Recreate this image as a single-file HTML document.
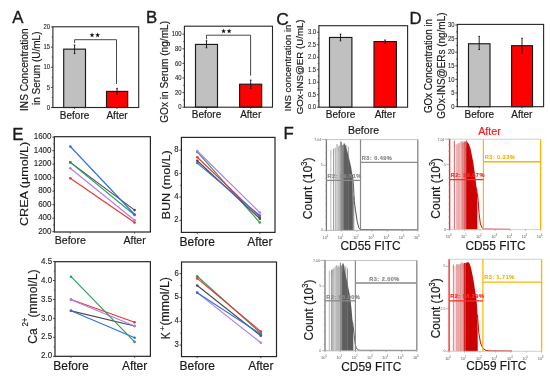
<!DOCTYPE html>
<html><head><meta charset="utf-8"><style>
html,body{margin:0;padding:0;background:#fff;}
svg{display:block;filter:blur(0.25px);font-family:"Liberation Sans",sans-serif;}
</style></head><body>
<svg width="550" height="378" viewBox="0 0 550 378">
<rect width="550" height="378" fill="#fff"/>
<rect x="63.70" y="49.14" width="21.80" height="58.36" fill="#c0c0c0" stroke="#1a1a1a" stroke-width="1.15"/>
<rect x="106.50" y="91.40" width="21.20" height="16.10" fill="#ff0000" stroke="#1a1a1a" stroke-width="1.15"/>
<line x1="74.60" y1="45.00" x2="74.60" y2="53.60" stroke="#111" stroke-width="0.9" />
<line x1="73.80" y1="45.00" x2="75.40" y2="45.00" stroke="#111" stroke-width="0.9" />
<line x1="73.80" y1="53.60" x2="75.40" y2="53.60" stroke="#111" stroke-width="0.9" />
<line x1="117.00" y1="88.40" x2="117.00" y2="94.30" stroke="#111" stroke-width="0.9" />
<line x1="116.20" y1="88.40" x2="117.80" y2="88.40" stroke="#111" stroke-width="0.9" />
<line x1="116.20" y1="94.30" x2="117.80" y2="94.30" stroke="#111" stroke-width="0.9" />
<rect x="52.90" y="26.80" width="85.80" height="80.70" fill="none" stroke="#262626" stroke-width="1.1"/>
<line x1="50.90" y1="107.50" x2="52.90" y2="107.50" stroke="#262626" stroke-width="0.8" />
<text transform="translate(50.05,109.67) scale(0.84,1)" font-size="7.0" text-anchor="end" fill="#222" stroke="#222" stroke-width="0.1">0</text>
<line x1="50.90" y1="87.38" x2="52.90" y2="87.38" stroke="#262626" stroke-width="0.8" />
<text transform="translate(50.05,89.55) scale(0.84,1)" font-size="7.0" text-anchor="end" fill="#222" stroke="#222" stroke-width="0.1">5</text>
<line x1="50.90" y1="67.25" x2="52.90" y2="67.25" stroke="#262626" stroke-width="0.8" />
<text transform="translate(50.05,69.42) scale(0.84,1)" font-size="7.0" text-anchor="end" fill="#222" stroke="#222" stroke-width="0.1">10</text>
<line x1="50.90" y1="47.12" x2="52.90" y2="47.12" stroke="#262626" stroke-width="0.8" />
<text transform="translate(50.05,49.30) scale(0.84,1)" font-size="7.0" text-anchor="end" fill="#222" stroke="#222" stroke-width="0.1">15</text>
<line x1="50.90" y1="27.00" x2="52.90" y2="27.00" stroke="#262626" stroke-width="0.8" />
<text transform="translate(50.05,29.17) scale(0.84,1)" font-size="7.0" text-anchor="end" fill="#222" stroke="#222" stroke-width="0.1">20</text>
<line x1="51.70" y1="97.44" x2="52.90" y2="97.44" stroke="#262626" stroke-width="0.7" />
<line x1="51.70" y1="77.31" x2="52.90" y2="77.31" stroke="#262626" stroke-width="0.7" />
<line x1="51.70" y1="57.19" x2="52.90" y2="57.19" stroke="#262626" stroke-width="0.7" />
<line x1="51.70" y1="37.06" x2="52.90" y2="37.06" stroke="#262626" stroke-width="0.7" />
<line x1="74.60" y1="107.50" x2="74.60" y2="109.00" stroke="#262626" stroke-width="0.8" />
<line x1="117.00" y1="107.50" x2="117.00" y2="109.00" stroke="#262626" stroke-width="0.8" />
<text x="74.60" y="118.50" font-size="10" text-anchor="middle" fill="#1a1a1a" font-weight="normal" stroke="#1a1a1a" stroke-width="0.18" >Before</text>
<text x="117.00" y="118.50" font-size="10" text-anchor="middle" fill="#1a1a1a" font-weight="normal" stroke="#1a1a1a" stroke-width="0.18" >After</text>
<text transform="translate(27.60,69.70) rotate(-90)" font-size="10.1" text-anchor="middle" fill="#1a1a1a" stroke="#1a1a1a" stroke-width="0.18">INS Concentration</text>
<text transform="translate(39.50,68.25) rotate(-90)" font-size="10.03" text-anchor="middle" fill="#1a1a1a" stroke="#1a1a1a" stroke-width="0.18">in Serum (U/mL)</text>
<polyline points="74.6,43.0 74.6,39.7 116.5,39.7 116.5,84.0" fill="none" stroke="#333" stroke-width="0.9"/>
<polygon points="92.05,32.55 92.67,34.25 94.48,34.31 93.05,35.42 93.55,37.16 92.05,36.15 90.55,37.16 91.05,35.42 89.62,34.31 91.43,34.25" fill="#111"/>
<polygon points="97.65,32.55 98.27,34.25 100.08,34.31 98.65,35.42 99.15,37.16 97.65,36.15 96.15,37.16 96.65,35.42 95.22,34.31 97.03,34.25" fill="#111"/>
<text x="12.20" y="23.00" font-size="16.8" text-anchor="start" fill="#1a1a1a" font-weight="normal" stroke="#1a1a1a" stroke-width="0.35" >A</text>
<rect x="195.50" y="44.42" width="22.00" height="62.78" fill="#c0c0c0" stroke="#1a1a1a" stroke-width="1.15"/>
<rect x="239.60" y="84.20" width="22.10" height="23.00" fill="#ff0000" stroke="#1a1a1a" stroke-width="1.15"/>
<line x1="206.50" y1="40.80" x2="206.50" y2="47.80" stroke="#111" stroke-width="0.9" />
<line x1="205.70" y1="40.80" x2="207.30" y2="40.80" stroke="#111" stroke-width="0.9" />
<line x1="205.70" y1="47.80" x2="207.30" y2="47.80" stroke="#111" stroke-width="0.9" />
<line x1="250.70" y1="80.10" x2="250.70" y2="88.30" stroke="#111" stroke-width="0.9" />
<line x1="249.90" y1="80.10" x2="251.50" y2="80.10" stroke="#111" stroke-width="0.9" />
<line x1="249.90" y1="88.30" x2="251.50" y2="88.30" stroke="#111" stroke-width="0.9" />
<rect x="184.40" y="26.20" width="88.10" height="81.00" fill="none" stroke="#262626" stroke-width="1.1"/>
<line x1="182.40" y1="107.20" x2="184.40" y2="107.20" stroke="#262626" stroke-width="0.8" />
<text transform="translate(181.55,109.37) scale(0.84,1)" font-size="7.0" text-anchor="end" fill="#222" stroke="#222" stroke-width="0.1">0</text>
<line x1="182.40" y1="92.60" x2="184.40" y2="92.60" stroke="#262626" stroke-width="0.8" />
<text transform="translate(181.55,94.77) scale(0.84,1)" font-size="7.0" text-anchor="end" fill="#222" stroke="#222" stroke-width="0.1">20</text>
<line x1="182.40" y1="78.00" x2="184.40" y2="78.00" stroke="#262626" stroke-width="0.8" />
<text transform="translate(181.55,80.17) scale(0.84,1)" font-size="7.0" text-anchor="end" fill="#222" stroke="#222" stroke-width="0.1">40</text>
<line x1="182.40" y1="63.40" x2="184.40" y2="63.40" stroke="#262626" stroke-width="0.8" />
<text transform="translate(181.55,65.57) scale(0.84,1)" font-size="7.0" text-anchor="end" fill="#222" stroke="#222" stroke-width="0.1">60</text>
<line x1="182.40" y1="48.80" x2="184.40" y2="48.80" stroke="#262626" stroke-width="0.8" />
<text transform="translate(181.55,50.97) scale(0.84,1)" font-size="7.0" text-anchor="end" fill="#222" stroke="#222" stroke-width="0.1">80</text>
<line x1="182.40" y1="34.20" x2="184.40" y2="34.20" stroke="#262626" stroke-width="0.8" />
<text transform="translate(181.55,36.37) scale(0.84,1)" font-size="7.0" text-anchor="end" fill="#222" stroke="#222" stroke-width="0.1">100</text>
<line x1="183.20" y1="99.90" x2="184.40" y2="99.90" stroke="#262626" stroke-width="0.7" />
<line x1="183.20" y1="85.30" x2="184.40" y2="85.30" stroke="#262626" stroke-width="0.7" />
<line x1="183.20" y1="70.70" x2="184.40" y2="70.70" stroke="#262626" stroke-width="0.7" />
<line x1="183.20" y1="56.10" x2="184.40" y2="56.10" stroke="#262626" stroke-width="0.7" />
<line x1="183.20" y1="41.50" x2="184.40" y2="41.50" stroke="#262626" stroke-width="0.7" />
<line x1="206.50" y1="107.20" x2="206.50" y2="108.70" stroke="#262626" stroke-width="0.8" />
<line x1="250.70" y1="107.20" x2="250.70" y2="108.70" stroke="#262626" stroke-width="0.8" />
<text x="206.50" y="118.20" font-size="10" text-anchor="middle" fill="#1a1a1a" font-weight="normal" stroke="#1a1a1a" stroke-width="0.18" >Before</text>
<text x="250.70" y="118.20" font-size="10" text-anchor="middle" fill="#1a1a1a" font-weight="normal" stroke="#1a1a1a" stroke-width="0.18" >After</text>
<text transform="translate(167.70,71.85) rotate(-90)" font-size="10.14" text-anchor="middle" fill="#1a1a1a" stroke="#1a1a1a" stroke-width="0.18">GOx in Serum (ng/mL)</text>
<polyline points="206.5,39.2 206.5,35.2 250.6,35.2 250.6,75.7" fill="none" stroke="#333" stroke-width="0.9"/>
<polygon points="223.60,28.65 224.22,30.35 226.03,30.41 224.60,31.52 225.10,33.26 223.60,32.25 222.10,33.26 222.60,31.52 221.17,30.41 222.98,30.35" fill="#111"/>
<polygon points="229.10,28.65 229.72,30.35 231.53,30.41 230.10,31.52 230.60,33.26 229.10,32.25 227.60,33.26 228.10,31.52 226.67,30.41 228.48,30.35" fill="#111"/>
<text x="146.00" y="22.90" font-size="16.8" text-anchor="start" fill="#1a1a1a" font-weight="normal" stroke="#1a1a1a" stroke-width="0.35" >B</text>
<rect x="329.50" y="37.45" width="22.40" height="69.75" fill="#c0c0c0" stroke="#1a1a1a" stroke-width="1.15"/>
<rect x="374.00" y="41.58" width="22.40" height="65.62" fill="#ff0000" stroke="#1a1a1a" stroke-width="1.15"/>
<line x1="340.50" y1="34.20" x2="340.50" y2="40.80" stroke="#111" stroke-width="0.9" />
<line x1="339.70" y1="34.20" x2="341.30" y2="34.20" stroke="#111" stroke-width="0.9" />
<line x1="339.70" y1="40.80" x2="341.30" y2="40.80" stroke="#111" stroke-width="0.9" />
<line x1="385.10" y1="40.00" x2="385.10" y2="43.40" stroke="#111" stroke-width="0.9" />
<line x1="384.30" y1="40.00" x2="385.90" y2="40.00" stroke="#111" stroke-width="0.9" />
<line x1="384.30" y1="43.40" x2="385.90" y2="43.40" stroke="#111" stroke-width="0.9" />
<rect x="318.90" y="25.70" width="88.70" height="81.50" fill="none" stroke="#262626" stroke-width="1.1"/>
<line x1="316.90" y1="107.20" x2="318.90" y2="107.20" stroke="#262626" stroke-width="0.8" />
<text transform="translate(316.05,109.37) scale(0.84,1)" font-size="7.0" text-anchor="end" fill="#222" stroke="#222" stroke-width="0.1">0.0</text>
<line x1="316.90" y1="94.70" x2="318.90" y2="94.70" stroke="#262626" stroke-width="0.8" />
<text transform="translate(316.05,96.87) scale(0.84,1)" font-size="7.0" text-anchor="end" fill="#222" stroke="#222" stroke-width="0.1">0.5</text>
<line x1="316.90" y1="82.20" x2="318.90" y2="82.20" stroke="#262626" stroke-width="0.8" />
<text transform="translate(316.05,84.37) scale(0.84,1)" font-size="7.0" text-anchor="end" fill="#222" stroke="#222" stroke-width="0.1">1.0</text>
<line x1="316.90" y1="69.70" x2="318.90" y2="69.70" stroke="#262626" stroke-width="0.8" />
<text transform="translate(316.05,71.87) scale(0.84,1)" font-size="7.0" text-anchor="end" fill="#222" stroke="#222" stroke-width="0.1">1.5</text>
<line x1="316.90" y1="57.20" x2="318.90" y2="57.20" stroke="#262626" stroke-width="0.8" />
<text transform="translate(316.05,59.37) scale(0.84,1)" font-size="7.0" text-anchor="end" fill="#222" stroke="#222" stroke-width="0.1">2.0</text>
<line x1="316.90" y1="44.70" x2="318.90" y2="44.70" stroke="#262626" stroke-width="0.8" />
<text transform="translate(316.05,46.87) scale(0.84,1)" font-size="7.0" text-anchor="end" fill="#222" stroke="#222" stroke-width="0.1">2.5</text>
<line x1="316.90" y1="32.20" x2="318.90" y2="32.20" stroke="#262626" stroke-width="0.8" />
<text transform="translate(316.05,34.37) scale(0.84,1)" font-size="7.0" text-anchor="end" fill="#222" stroke="#222" stroke-width="0.1">3.0</text>
<line x1="317.70" y1="100.95" x2="318.90" y2="100.95" stroke="#262626" stroke-width="0.7" />
<line x1="317.70" y1="88.45" x2="318.90" y2="88.45" stroke="#262626" stroke-width="0.7" />
<line x1="317.70" y1="75.95" x2="318.90" y2="75.95" stroke="#262626" stroke-width="0.7" />
<line x1="317.70" y1="63.45" x2="318.90" y2="63.45" stroke="#262626" stroke-width="0.7" />
<line x1="317.70" y1="50.95" x2="318.90" y2="50.95" stroke="#262626" stroke-width="0.7" />
<line x1="317.70" y1="38.45" x2="318.90" y2="38.45" stroke="#262626" stroke-width="0.7" />
<line x1="340.60" y1="107.20" x2="340.60" y2="108.70" stroke="#262626" stroke-width="0.8" />
<line x1="385.20" y1="107.20" x2="385.20" y2="108.70" stroke="#262626" stroke-width="0.8" />
<text x="340.60" y="118.30" font-size="10" text-anchor="middle" fill="#1a1a1a" font-weight="normal" stroke="#1a1a1a" stroke-width="0.18" >Before</text>
<text x="385.20" y="118.30" font-size="10" text-anchor="middle" fill="#1a1a1a" font-weight="normal" stroke="#1a1a1a" stroke-width="0.18" >After</text>
<text transform="translate(291.40,67.90) rotate(-90)" font-size="9.65" text-anchor="middle" fill="#1a1a1a" stroke="#1a1a1a" stroke-width="0.18">INS concentration in</text>
<text transform="translate(303.10,66.85) rotate(-90)" font-size="9.7" text-anchor="middle" fill="#1a1a1a" stroke="#1a1a1a" stroke-width="0.18">GOx-INS@ER (U/mL)</text>
<text x="276.30" y="25.00" font-size="17.4" text-anchor="start" fill="#1a1a1a" font-weight="normal" stroke="#1a1a1a" stroke-width="0.35" >C</text>
<rect x="468.50" y="43.77" width="21.50" height="62.93" fill="#c0c0c0" stroke="#1a1a1a" stroke-width="1.15"/>
<rect x="511.60" y="45.67" width="20.90" height="61.03" fill="#ff0000" stroke="#1a1a1a" stroke-width="1.15"/>
<line x1="479.20" y1="36.40" x2="479.20" y2="49.50" stroke="#111" stroke-width="0.9" />
<line x1="478.40" y1="36.40" x2="480.00" y2="36.40" stroke="#111" stroke-width="0.9" />
<line x1="478.40" y1="49.50" x2="480.00" y2="49.50" stroke="#111" stroke-width="0.9" />
<line x1="522.00" y1="38.30" x2="522.00" y2="53.00" stroke="#111" stroke-width="0.9" />
<line x1="521.20" y1="38.30" x2="522.80" y2="38.30" stroke="#111" stroke-width="0.9" />
<line x1="521.20" y1="53.00" x2="522.80" y2="53.00" stroke="#111" stroke-width="0.9" />
<rect x="457.30" y="24.40" width="86.30" height="82.30" fill="none" stroke="#262626" stroke-width="1.1"/>
<line x1="455.30" y1="106.60" x2="457.30" y2="106.60" stroke="#262626" stroke-width="0.8" />
<text transform="translate(454.45,108.77) scale(0.84,1)" font-size="7.0" text-anchor="end" fill="#222" stroke="#222" stroke-width="0.1">0</text>
<line x1="455.30" y1="93.00" x2="457.30" y2="93.00" stroke="#262626" stroke-width="0.8" />
<text transform="translate(454.45,95.17) scale(0.84,1)" font-size="7.0" text-anchor="end" fill="#222" stroke="#222" stroke-width="0.1">5</text>
<line x1="455.30" y1="79.40" x2="457.30" y2="79.40" stroke="#262626" stroke-width="0.8" />
<text transform="translate(454.45,81.57) scale(0.84,1)" font-size="7.0" text-anchor="end" fill="#222" stroke="#222" stroke-width="0.1">10</text>
<line x1="455.30" y1="65.80" x2="457.30" y2="65.80" stroke="#262626" stroke-width="0.8" />
<text transform="translate(454.45,67.97) scale(0.84,1)" font-size="7.0" text-anchor="end" fill="#222" stroke="#222" stroke-width="0.1">15</text>
<line x1="455.30" y1="52.20" x2="457.30" y2="52.20" stroke="#262626" stroke-width="0.8" />
<text transform="translate(454.45,54.37) scale(0.84,1)" font-size="7.0" text-anchor="end" fill="#222" stroke="#222" stroke-width="0.1">20</text>
<line x1="455.30" y1="38.60" x2="457.30" y2="38.60" stroke="#262626" stroke-width="0.8" />
<text transform="translate(454.45,40.77) scale(0.84,1)" font-size="7.0" text-anchor="end" fill="#222" stroke="#222" stroke-width="0.1">25</text>
<line x1="455.30" y1="25.00" x2="457.30" y2="25.00" stroke="#262626" stroke-width="0.8" />
<text transform="translate(454.45,27.17) scale(0.84,1)" font-size="7.0" text-anchor="end" fill="#222" stroke="#222" stroke-width="0.1">30</text>
<line x1="456.10" y1="99.80" x2="457.30" y2="99.80" stroke="#262626" stroke-width="0.7" />
<line x1="456.10" y1="86.20" x2="457.30" y2="86.20" stroke="#262626" stroke-width="0.7" />
<line x1="456.10" y1="72.60" x2="457.30" y2="72.60" stroke="#262626" stroke-width="0.7" />
<line x1="456.10" y1="59.00" x2="457.30" y2="59.00" stroke="#262626" stroke-width="0.7" />
<line x1="456.10" y1="45.40" x2="457.30" y2="45.40" stroke="#262626" stroke-width="0.7" />
<line x1="456.10" y1="31.80" x2="457.30" y2="31.80" stroke="#262626" stroke-width="0.7" />
<line x1="479.30" y1="106.70" x2="479.30" y2="108.20" stroke="#262626" stroke-width="0.8" />
<line x1="521.90" y1="106.70" x2="521.90" y2="108.20" stroke="#262626" stroke-width="0.8" />
<text x="479.30" y="117.80" font-size="10" text-anchor="middle" fill="#1a1a1a" font-weight="normal" stroke="#1a1a1a" stroke-width="0.18" >Before</text>
<text x="521.90" y="117.80" font-size="10" text-anchor="middle" fill="#1a1a1a" font-weight="normal" stroke="#1a1a1a" stroke-width="0.18" >After</text>
<text transform="translate(431.60,66.05) rotate(-90) scale(1,1.12)" font-size="9.8" text-anchor="middle" fill="#1a1a1a" stroke="#1a1a1a" stroke-width="0.18">GOx Concentration in</text>
<text transform="translate(444.50,65.65) rotate(-90) scale(1,1.12)" font-size="9.96" text-anchor="middle" fill="#1a1a1a" stroke="#1a1a1a" stroke-width="0.18">GOx-INS@ERs (ng/mL)</text>
<text x="409.60" y="23.70" font-size="16.8" text-anchor="start" fill="#1a1a1a" font-weight="normal" stroke="#1a1a1a" stroke-width="0.35" >D</text>
<line x1="70.30" y1="178.31" x2="134.60" y2="222.59" stroke="#f03333" stroke-width="1.15" />
<circle cx="70.30" cy="178.31" r="1.3" fill="#f03333"/>
<circle cx="134.60" cy="222.59" r="1.3" fill="#f03333"/>
<line x1="70.30" y1="168.32" x2="134.60" y2="220.22" stroke="#b07ef0" stroke-width="1.15" />
<circle cx="70.30" cy="168.32" r="1.3" fill="#b07ef0"/>
<circle cx="134.60" cy="220.22" r="1.3" fill="#b07ef0"/>
<line x1="70.30" y1="162.38" x2="134.60" y2="210.10" stroke="#4a4a4a" stroke-width="1.15" />
<circle cx="70.30" cy="162.38" r="1.3" fill="#4a4a4a"/>
<circle cx="134.60" cy="210.10" r="1.3" fill="#4a4a4a"/>
<line x1="70.30" y1="162.38" x2="134.60" y2="214.96" stroke="#2e9b5b" stroke-width="1.15" />
<circle cx="70.30" cy="162.38" r="1.3" fill="#2e9b5b"/>
<circle cx="134.60" cy="214.96" r="1.3" fill="#2e9b5b"/>
<line x1="70.30" y1="146.51" x2="134.60" y2="214.49" stroke="#2f6fe6" stroke-width="1.15" />
<circle cx="70.30" cy="146.51" r="1.3" fill="#2f6fe6"/>
<circle cx="134.60" cy="214.49" r="1.3" fill="#2f6fe6"/>
<rect x="54.30" y="136.70" width="96.10" height="95.30" fill="none" stroke="#262626" stroke-width="1.2"/>
<line x1="52.30" y1="231.70" x2="54.30" y2="231.70" stroke="#262626" stroke-width="0.8" />
<text transform="translate(51.50,233.82) scale(0.94,1)" font-size="8.5" text-anchor="end" fill="#222" stroke="#222" stroke-width="0.12">200</text>
<line x1="52.30" y1="218.20" x2="54.30" y2="218.20" stroke="#262626" stroke-width="0.8" />
<text transform="translate(51.50,220.32) scale(0.94,1)" font-size="8.5" text-anchor="end" fill="#222" stroke="#222" stroke-width="0.12">400</text>
<line x1="52.30" y1="204.70" x2="54.30" y2="204.70" stroke="#262626" stroke-width="0.8" />
<text transform="translate(51.50,206.82) scale(0.94,1)" font-size="8.5" text-anchor="end" fill="#222" stroke="#222" stroke-width="0.12">600</text>
<line x1="52.30" y1="191.20" x2="54.30" y2="191.20" stroke="#262626" stroke-width="0.8" />
<text transform="translate(51.50,193.32) scale(0.94,1)" font-size="8.5" text-anchor="end" fill="#222" stroke="#222" stroke-width="0.12">800</text>
<line x1="52.30" y1="177.70" x2="54.30" y2="177.70" stroke="#262626" stroke-width="0.8" />
<text transform="translate(51.50,179.82) scale(0.94,1)" font-size="8.5" text-anchor="end" fill="#222" stroke="#222" stroke-width="0.12">1000</text>
<line x1="52.30" y1="164.20" x2="54.30" y2="164.20" stroke="#262626" stroke-width="0.8" />
<text transform="translate(51.50,166.32) scale(0.94,1)" font-size="8.5" text-anchor="end" fill="#222" stroke="#222" stroke-width="0.12">1200</text>
<line x1="52.30" y1="150.70" x2="54.30" y2="150.70" stroke="#262626" stroke-width="0.8" />
<text transform="translate(51.50,152.82) scale(0.94,1)" font-size="8.5" text-anchor="end" fill="#222" stroke="#222" stroke-width="0.12">1400</text>
<line x1="52.30" y1="137.20" x2="54.30" y2="137.20" stroke="#262626" stroke-width="0.8" />
<text transform="translate(51.50,139.32) scale(0.94,1)" font-size="8.5" text-anchor="end" fill="#222" stroke="#222" stroke-width="0.12">1600</text>
<line x1="53.10" y1="224.95" x2="54.30" y2="224.95" stroke="#262626" stroke-width="0.7" />
<line x1="53.10" y1="211.45" x2="54.30" y2="211.45" stroke="#262626" stroke-width="0.7" />
<line x1="53.10" y1="197.95" x2="54.30" y2="197.95" stroke="#262626" stroke-width="0.7" />
<line x1="53.10" y1="184.45" x2="54.30" y2="184.45" stroke="#262626" stroke-width="0.7" />
<line x1="53.10" y1="170.95" x2="54.30" y2="170.95" stroke="#262626" stroke-width="0.7" />
<line x1="53.10" y1="157.45" x2="54.30" y2="157.45" stroke="#262626" stroke-width="0.7" />
<line x1="53.10" y1="143.95" x2="54.30" y2="143.95" stroke="#262626" stroke-width="0.7" />
<line x1="70.30" y1="232.00" x2="70.30" y2="233.50" stroke="#262626" stroke-width="0.8" />
<line x1="134.60" y1="232.00" x2="134.60" y2="233.50" stroke="#262626" stroke-width="0.8" />
<text x="70.30" y="244.10" font-size="10.6" text-anchor="middle" fill="#1a1a1a" font-weight="normal" stroke="#1a1a1a" stroke-width="0.18" >Before</text>
<text x="134.60" y="244.10" font-size="10.6" text-anchor="middle" fill="#1a1a1a" font-weight="normal" stroke="#1a1a1a" stroke-width="0.18" >After</text>
<text transform="translate(28.30,183.90) rotate(-90) scale(1,0.88)" font-size="12.6" text-anchor="middle" fill="#1a1a1a" stroke="#1a1a1a" stroke-width="0.18">CREA (µmol/L)</text>
<text x="12.30" y="140.20" font-size="16.8" text-anchor="start" fill="#1a1a1a" font-weight="normal" stroke="#1a1a1a" stroke-width="0.35" >E</text>
<line x1="197.30" y1="151.96" x2="259.80" y2="222.51" stroke="#2e9b5b" stroke-width="1.15" />
<circle cx="197.30" cy="151.96" r="1.3" fill="#2e9b5b"/>
<circle cx="259.80" cy="222.51" r="1.3" fill="#2e9b5b"/>
<line x1="197.30" y1="151.02" x2="259.80" y2="212.56" stroke="#b07ef0" stroke-width="1.15" />
<circle cx="197.30" cy="151.02" r="1.3" fill="#b07ef0"/>
<circle cx="259.80" cy="212.56" r="1.3" fill="#b07ef0"/>
<line x1="197.30" y1="157.22" x2="259.80" y2="216.89" stroke="#f03333" stroke-width="1.15" />
<circle cx="197.30" cy="157.22" r="1.3" fill="#f03333"/>
<circle cx="259.80" cy="216.89" r="1.3" fill="#f03333"/>
<line x1="197.30" y1="160.73" x2="259.80" y2="218.65" stroke="#4a4a4a" stroke-width="1.15" />
<circle cx="197.30" cy="160.73" r="1.3" fill="#4a4a4a"/>
<circle cx="259.80" cy="218.65" r="1.3" fill="#4a4a4a"/>
<line x1="197.30" y1="163.07" x2="259.80" y2="215.49" stroke="#2f6fe6" stroke-width="1.15" />
<circle cx="197.30" cy="163.07" r="1.3" fill="#2f6fe6"/>
<circle cx="259.80" cy="215.49" r="1.3" fill="#2f6fe6"/>
<rect x="181.40" y="137.40" width="93.60" height="95.00" fill="none" stroke="#262626" stroke-width="1.2"/>
<line x1="179.40" y1="220.40" x2="181.40" y2="220.40" stroke="#262626" stroke-width="0.8" />
<text transform="translate(178.60,222.45) scale(0.94,1)" font-size="8.2" text-anchor="end" fill="#222" stroke="#222" stroke-width="0.12">2</text>
<line x1="179.40" y1="197.00" x2="181.40" y2="197.00" stroke="#262626" stroke-width="0.8" />
<text transform="translate(178.60,199.05) scale(0.94,1)" font-size="8.2" text-anchor="end" fill="#222" stroke="#222" stroke-width="0.12">4</text>
<line x1="179.40" y1="173.60" x2="181.40" y2="173.60" stroke="#262626" stroke-width="0.8" />
<text transform="translate(178.60,175.65) scale(0.94,1)" font-size="8.2" text-anchor="end" fill="#222" stroke="#222" stroke-width="0.12">6</text>
<line x1="179.40" y1="150.20" x2="181.40" y2="150.20" stroke="#262626" stroke-width="0.8" />
<text transform="translate(178.60,152.25) scale(0.94,1)" font-size="8.2" text-anchor="end" fill="#222" stroke="#222" stroke-width="0.12">8</text>
<line x1="180.20" y1="208.70" x2="181.40" y2="208.70" stroke="#262626" stroke-width="0.7" />
<line x1="180.20" y1="185.30" x2="181.40" y2="185.30" stroke="#262626" stroke-width="0.7" />
<line x1="180.20" y1="161.90" x2="181.40" y2="161.90" stroke="#262626" stroke-width="0.7" />
<line x1="197.30" y1="232.40" x2="197.30" y2="233.90" stroke="#262626" stroke-width="0.8" />
<line x1="259.80" y1="232.40" x2="259.80" y2="233.90" stroke="#262626" stroke-width="0.8" />
<text x="197.30" y="245.50" font-size="12" text-anchor="middle" fill="#1a1a1a" font-weight="normal" stroke="#1a1a1a" stroke-width="0.18" >Before</text>
<text x="259.80" y="245.50" font-size="12" text-anchor="middle" fill="#1a1a1a" font-weight="normal" stroke="#1a1a1a" stroke-width="0.18" >After</text>
<text transform="translate(169.70,184.85) rotate(-90) scale(1,0.88)" font-size="12.57" text-anchor="middle" fill="#1a1a1a" stroke="#1a1a1a" stroke-width="0.18">BUN (mol/L)</text>
<line x1="71.00" y1="310.82" x2="134.60" y2="325.98" stroke="#4a4a4a" stroke-width="1.15" />
<circle cx="71.00" cy="310.82" r="1.3" fill="#4a4a4a"/>
<circle cx="134.60" cy="325.98" r="1.3" fill="#4a4a4a"/>
<line x1="71.00" y1="310.82" x2="134.60" y2="337.73" stroke="#2f6fe6" stroke-width="1.15" />
<circle cx="71.00" cy="310.82" r="1.3" fill="#2f6fe6"/>
<circle cx="134.60" cy="337.73" r="1.3" fill="#2f6fe6"/>
<line x1="71.00" y1="299.45" x2="134.60" y2="322.19" stroke="#f03333" stroke-width="1.15" />
<circle cx="71.00" cy="299.45" r="1.3" fill="#f03333"/>
<circle cx="134.60" cy="322.19" r="1.3" fill="#f03333"/>
<line x1="71.00" y1="299.83" x2="134.60" y2="325.98" stroke="#b07ef0" stroke-width="1.15" />
<circle cx="71.00" cy="299.83" r="1.3" fill="#b07ef0"/>
<circle cx="134.60" cy="325.98" r="1.3" fill="#b07ef0"/>
<line x1="71.00" y1="276.71" x2="134.60" y2="341.90" stroke="#2e9b5b" stroke-width="1.15" />
<circle cx="71.00" cy="276.71" r="1.3" fill="#2e9b5b"/>
<circle cx="134.60" cy="341.90" r="1.3" fill="#2e9b5b"/>
<rect x="55.00" y="261.70" width="95.40" height="94.60" fill="none" stroke="#262626" stroke-width="1.2"/>
<line x1="53.00" y1="356.30" x2="55.00" y2="356.30" stroke="#262626" stroke-width="0.8" />
<text transform="translate(52.20,358.43) scale(0.94,1)" font-size="8.5" text-anchor="end" fill="#222" stroke="#222" stroke-width="0.12">2.0</text>
<line x1="53.00" y1="337.35" x2="55.00" y2="337.35" stroke="#262626" stroke-width="0.8" />
<text transform="translate(52.20,339.48) scale(0.94,1)" font-size="8.5" text-anchor="end" fill="#222" stroke="#222" stroke-width="0.12">2.5</text>
<line x1="53.00" y1="318.40" x2="55.00" y2="318.40" stroke="#262626" stroke-width="0.8" />
<text transform="translate(52.20,320.53) scale(0.94,1)" font-size="8.5" text-anchor="end" fill="#222" stroke="#222" stroke-width="0.12">3.0</text>
<line x1="53.00" y1="299.45" x2="55.00" y2="299.45" stroke="#262626" stroke-width="0.8" />
<text transform="translate(52.20,301.58) scale(0.94,1)" font-size="8.5" text-anchor="end" fill="#222" stroke="#222" stroke-width="0.12">3.5</text>
<line x1="53.00" y1="280.50" x2="55.00" y2="280.50" stroke="#262626" stroke-width="0.8" />
<text transform="translate(52.20,282.62) scale(0.94,1)" font-size="8.5" text-anchor="end" fill="#222" stroke="#222" stroke-width="0.12">4.0</text>
<line x1="53.00" y1="261.55" x2="55.00" y2="261.55" stroke="#262626" stroke-width="0.8" />
<text transform="translate(52.20,263.68) scale(0.94,1)" font-size="8.5" text-anchor="end" fill="#222" stroke="#222" stroke-width="0.12">4.5</text>
<line x1="53.80" y1="346.82" x2="55.00" y2="346.82" stroke="#262626" stroke-width="0.7" />
<line x1="53.80" y1="327.88" x2="55.00" y2="327.88" stroke="#262626" stroke-width="0.7" />
<line x1="53.80" y1="308.93" x2="55.00" y2="308.93" stroke="#262626" stroke-width="0.7" />
<line x1="53.80" y1="289.98" x2="55.00" y2="289.98" stroke="#262626" stroke-width="0.7" />
<line x1="53.80" y1="271.03" x2="55.00" y2="271.03" stroke="#262626" stroke-width="0.7" />
<line x1="71.00" y1="356.30" x2="71.00" y2="357.80" stroke="#262626" stroke-width="0.8" />
<line x1="134.60" y1="356.30" x2="134.60" y2="357.80" stroke="#262626" stroke-width="0.8" />
<text x="71.00" y="369.80" font-size="12" text-anchor="middle" fill="#1a1a1a" font-weight="normal" stroke="#1a1a1a" stroke-width="0.18" >Before</text>
<text x="134.60" y="369.80" font-size="12" text-anchor="middle" fill="#1a1a1a" font-weight="normal" stroke="#1a1a1a" stroke-width="0.18" >After</text>
<text transform="translate(37.40,343.70) rotate(-90) scale(0.93,1.0)" font-size="12.8" fill="#1a1a1a" stroke="#1a1a1a" stroke-width="0.18">Ca</text>
<text transform="translate(28.20,326.60) rotate(-90) scale(0.95,1.0)" font-size="8.4" fill="#1a1a1a" stroke="#1a1a1a" stroke-width="0.18">2+</text>
<text transform="translate(36.80,317.60) rotate(-90) scale(1.0,1.0)" font-size="12.2" fill="#1a1a1a" stroke="#1a1a1a" stroke-width="0.18">(mmol/L)</text>
<line x1="197.20" y1="292.67" x2="260.80" y2="342.72" stroke="#b07ef0" stroke-width="1.15" />
<circle cx="197.20" cy="292.67" r="1.3" fill="#b07ef0"/>
<circle cx="260.80" cy="342.72" r="1.3" fill="#b07ef0"/>
<line x1="197.20" y1="285.53" x2="260.80" y2="335.81" stroke="#4a4a4a" stroke-width="1.15" />
<circle cx="197.20" cy="285.53" r="1.3" fill="#4a4a4a"/>
<circle cx="260.80" cy="335.81" r="1.3" fill="#4a4a4a"/>
<line x1="197.20" y1="292.67" x2="260.80" y2="334.14" stroke="#2f6fe6" stroke-width="1.15" />
<circle cx="197.20" cy="292.67" r="1.3" fill="#2f6fe6"/>
<circle cx="260.80" cy="334.14" r="1.3" fill="#2f6fe6"/>
<line x1="197.20" y1="276.23" x2="260.80" y2="333.19" stroke="#2e9b5b" stroke-width="1.15" />
<circle cx="197.20" cy="276.23" r="1.3" fill="#2e9b5b"/>
<circle cx="260.80" cy="333.19" r="1.3" fill="#2e9b5b"/>
<line x1="197.20" y1="278.38" x2="260.80" y2="331.52" stroke="#f03333" stroke-width="1.15" />
<circle cx="197.20" cy="278.38" r="1.3" fill="#f03333"/>
<circle cx="260.80" cy="331.52" r="1.3" fill="#f03333"/>
<rect x="181.50" y="262.00" width="95.00" height="94.60" fill="none" stroke="#262626" stroke-width="1.2"/>
<line x1="179.50" y1="345.10" x2="181.50" y2="345.10" stroke="#262626" stroke-width="0.8" />
<text transform="translate(178.70,347.15) scale(0.94,1)" font-size="8.2" text-anchor="end" fill="#222" stroke="#222" stroke-width="0.12">3</text>
<line x1="179.50" y1="321.27" x2="181.50" y2="321.27" stroke="#262626" stroke-width="0.8" />
<text transform="translate(178.70,323.32) scale(0.94,1)" font-size="8.2" text-anchor="end" fill="#222" stroke="#222" stroke-width="0.12">4</text>
<line x1="179.50" y1="297.44" x2="181.50" y2="297.44" stroke="#262626" stroke-width="0.8" />
<text transform="translate(178.70,299.49) scale(0.94,1)" font-size="8.2" text-anchor="end" fill="#222" stroke="#222" stroke-width="0.12">5</text>
<line x1="179.50" y1="273.61" x2="181.50" y2="273.61" stroke="#262626" stroke-width="0.8" />
<text transform="translate(178.70,275.66) scale(0.94,1)" font-size="8.2" text-anchor="end" fill="#222" stroke="#222" stroke-width="0.12">6</text>
<line x1="180.30" y1="333.19" x2="181.50" y2="333.19" stroke="#262626" stroke-width="0.7" />
<line x1="180.30" y1="309.36" x2="181.50" y2="309.36" stroke="#262626" stroke-width="0.7" />
<line x1="180.30" y1="285.53" x2="181.50" y2="285.53" stroke="#262626" stroke-width="0.7" />
<line x1="197.20" y1="356.60" x2="197.20" y2="358.10" stroke="#262626" stroke-width="0.8" />
<line x1="260.80" y1="356.60" x2="260.80" y2="358.10" stroke="#262626" stroke-width="0.8" />
<text x="197.20" y="370.20" font-size="12" text-anchor="middle" fill="#1a1a1a" font-weight="normal" stroke="#1a1a1a" stroke-width="0.18" >Before</text>
<text x="260.80" y="370.20" font-size="12" text-anchor="middle" fill="#1a1a1a" font-weight="normal" stroke="#1a1a1a" stroke-width="0.18" >After</text>
<text transform="translate(169.80,339.00) rotate(-90) scale(0.82,1.0)" font-size="12.2" fill="#1a1a1a" stroke="#1a1a1a" stroke-width="0.18">K</text>
<text transform="translate(165.00,330.40) rotate(-90) scale(1.0,1.0)" font-size="7.6" fill="#1a1a1a" stroke="#1a1a1a" stroke-width="0.18">+</text>
<text transform="translate(169.40,325.60) rotate(-90) scale(1.0,1.0)" font-size="12.3" fill="#1a1a1a" stroke="#1a1a1a" stroke-width="0.18">(mmol/L)</text>
<rect x="330.30" y="150.30" width="1.10" height="80.00" fill="#c4c4c4"/>
<rect x="333.00" y="148.70" width="0.90" height="81.60" fill="#989898"/>
<rect x="334.70" y="147.90" width="1.60" height="82.40" fill="#bcbcbc"/>
<rect x="336.30" y="144.00" width="1.60" height="86.30" fill="#c6c6c6"/>
<rect x="337.90" y="146.50" width="0.80" height="83.80" fill="#acacac"/>
<rect x="338.70" y="145.50" width="1.20" height="84.80" fill="#b6b6b6"/>
<rect x="339.90" y="146.00" width="0.40" height="84.30" fill="#a0a0a0"/>
<rect x="340.30" y="142.00" width="1.60" height="88.30" fill="#868686"/>
<rect x="341.90" y="145.00" width="2.10" height="85.30" fill="#8c8c8c"/>
<rect x="352.40" y="196.00" width="1.90" height="34.30" fill="#9a9a9a"/>
<polygon points="343.80,230.30 343.80,144.00 344.50,143.20 345.40,145.00 346.60,148.90 348.30,155.00 350.00,161.90 351.30,168.00 352.30,174.80 352.70,187.80 352.80,200.00 352.80,230.30" fill="#5a5a5a"/>
<line x1="344.20" y1="143.80" x2="344.20" y2="230.30" stroke="#666" stroke-width="0.7" />
<line x1="346.00" y1="145.00" x2="346.00" y2="230.30" stroke="#6a6a6a" stroke-width="0.7" />
<line x1="348.30" y1="146.50" x2="348.30" y2="230.30" stroke="#777" stroke-width="0.7" />
<line x1="330.85" y1="149.04" x2="330.85" y2="156.30" stroke="#c4c4c4" stroke-width="0.45" />
<line x1="333.45" y1="150.29" x2="333.45" y2="154.70" stroke="#989898" stroke-width="0.45" />
<line x1="335.10" y1="149.16" x2="335.10" y2="153.90" stroke="#bcbcbc" stroke-width="0.45" />
<line x1="335.90" y1="147.12" x2="335.90" y2="153.90" stroke="#bcbcbc" stroke-width="0.45" />
<line x1="336.70" y1="144.18" x2="336.70" y2="150.00" stroke="#c6c6c6" stroke-width="0.45" />
<line x1="337.50" y1="144.00" x2="337.50" y2="150.00" stroke="#c6c6c6" stroke-width="0.45" />
<line x1="338.30" y1="147.31" x2="338.30" y2="152.50" stroke="#acacac" stroke-width="0.45" />
<line x1="339.30" y1="146.85" x2="339.30" y2="151.50" stroke="#b6b6b6" stroke-width="0.45" />
<line x1="340.10" y1="144.58" x2="340.10" y2="152.00" stroke="#a0a0a0" stroke-width="0.45" />
<line x1="340.70" y1="140.31" x2="340.70" y2="148.00" stroke="#868686" stroke-width="0.45" />
<line x1="341.50" y1="143.54" x2="341.50" y2="148.00" stroke="#868686" stroke-width="0.45" />
<line x1="342.25" y1="144.93" x2="342.25" y2="151.00" stroke="#8c8c8c" stroke-width="0.45" />
<line x1="342.95" y1="146.25" x2="342.95" y2="151.00" stroke="#8c8c8c" stroke-width="0.45" />
<line x1="343.65" y1="143.21" x2="343.65" y2="151.00" stroke="#8c8c8c" stroke-width="0.45" />
<line x1="352.88" y1="195.98" x2="352.88" y2="202.00" stroke="#9a9a9a" stroke-width="0.45" />
<line x1="353.82" y1="197.09" x2="353.82" y2="202.00" stroke="#9a9a9a" stroke-width="0.45" />
<polyline points="352.50,174.80 353.60,187.80 354.20,200.50 355.60,210.90 357.20,221.50 358.80,227.80 360.40,229.70 417.00,229.90" fill="none" stroke="#555" stroke-width="1.0"/>
<line x1="326.40" y1="139.60" x2="417.80" y2="139.60" stroke="#c4c4c4" stroke-width="1.0" />
<line x1="326.40" y1="230.40" x2="417.80" y2="230.40" stroke="#b0b0b0" stroke-width="0.9" />
<line x1="417.80" y1="139.60" x2="417.80" y2="230.40" stroke="#858585" stroke-width="1.3" />
<line x1="326.40" y1="139.60" x2="326.40" y2="230.40" stroke="#777" stroke-width="1.3" />
<line x1="360.50" y1="139.60" x2="360.50" y2="230.40" stroke="#8a8a8a" stroke-width="1.2" />
<line x1="360.50" y1="162.40" x2="417.80" y2="162.40" stroke="#8a8a8a" stroke-width="1.3" />
<line x1="326.40" y1="180.30" x2="360.50" y2="180.30" stroke="#8a8a8a" stroke-width="1.3" />
<text x="327.60" y="178.05" font-size="5.6" text-anchor="start" fill="#8a8a8a" font-weight="bold" stroke="#8a8a8a" stroke-width="0.18" letter-spacing="0.45">R2: 99.51%</text>
<text x="361.80" y="159.95" font-size="5.6" text-anchor="start" fill="#8a8a8a" font-weight="bold" stroke="#8a8a8a" stroke-width="0.18" letter-spacing="0.45">R3: 0.49%</text>
<line x1="321.60" y1="139.60" x2="326.40" y2="139.60" stroke="#888" stroke-width="0.6" />
<text x="321.10" y="140.90" font-size="3.5" text-anchor="end" fill="#555" font-weight="normal" >7.04</text>
<line x1="323.20" y1="165.30" x2="326.40" y2="165.30" stroke="#888" stroke-width="0.6" />
<text x="322.70" y="166.40" font-size="3.5" text-anchor="end" fill="#555" font-weight="normal" >5</text>
<line x1="323.20" y1="230.30" x2="326.40" y2="230.30" stroke="#888" stroke-width="0.6" />
<text x="322.70" y="231.40" font-size="3.5" text-anchor="end" fill="#555" font-weight="normal" >0</text>
<line x1="325.00" y1="223.80" x2="326.40" y2="223.80" stroke="#999" stroke-width="0.5" />
<line x1="325.00" y1="217.30" x2="326.40" y2="217.30" stroke="#999" stroke-width="0.5" />
<line x1="325.00" y1="210.80" x2="326.40" y2="210.80" stroke="#999" stroke-width="0.5" />
<line x1="325.00" y1="204.30" x2="326.40" y2="204.30" stroke="#999" stroke-width="0.5" />
<line x1="325.00" y1="197.80" x2="326.40" y2="197.80" stroke="#999" stroke-width="0.5" />
<line x1="325.00" y1="191.30" x2="326.40" y2="191.30" stroke="#999" stroke-width="0.5" />
<line x1="325.00" y1="184.80" x2="326.40" y2="184.80" stroke="#999" stroke-width="0.5" />
<line x1="325.00" y1="178.30" x2="326.40" y2="178.30" stroke="#999" stroke-width="0.5" />
<line x1="325.00" y1="171.80" x2="326.40" y2="171.80" stroke="#999" stroke-width="0.5" />
<line x1="325.00" y1="158.80" x2="326.40" y2="158.80" stroke="#999" stroke-width="0.5" />
<line x1="325.00" y1="152.30" x2="326.40" y2="152.30" stroke="#999" stroke-width="0.5" />
<line x1="325.00" y1="145.80" x2="326.40" y2="145.80" stroke="#999" stroke-width="0.5" />
<line x1="325.00" y1="139.30" x2="326.40" y2="139.30" stroke="#999" stroke-width="0.5" />
<line x1="326.40" y1="230.40" x2="326.40" y2="231.70" stroke="#888" stroke-width="0.6" />
<text x="325.40" y="238.70" font-size="3.9" text-anchor="middle" fill="#555">10<tspan font-size="2.6" dy="-1.8">0</tspan></text>
<line x1="341.63" y1="230.40" x2="341.63" y2="231.70" stroke="#888" stroke-width="0.6" />
<text x="340.63" y="238.70" font-size="3.9" text-anchor="middle" fill="#555">10<tspan font-size="2.6" dy="-1.8">1</tspan></text>
<line x1="356.87" y1="230.40" x2="356.87" y2="231.70" stroke="#888" stroke-width="0.6" />
<text x="355.87" y="238.70" font-size="3.9" text-anchor="middle" fill="#555">10<tspan font-size="2.6" dy="-1.8">2</tspan></text>
<line x1="372.10" y1="230.40" x2="372.10" y2="231.70" stroke="#888" stroke-width="0.6" />
<text x="371.10" y="238.70" font-size="3.9" text-anchor="middle" fill="#555">10<tspan font-size="2.6" dy="-1.8">3</tspan></text>
<line x1="387.33" y1="230.40" x2="387.33" y2="231.70" stroke="#888" stroke-width="0.6" />
<text x="386.33" y="238.70" font-size="3.9" text-anchor="middle" fill="#555">10<tspan font-size="2.6" dy="-1.8">4</tspan></text>
<line x1="402.57" y1="230.40" x2="402.57" y2="231.70" stroke="#888" stroke-width="0.6" />
<text x="401.57" y="238.70" font-size="3.9" text-anchor="middle" fill="#555">10<tspan font-size="2.6" dy="-1.8">5</tspan></text>
<line x1="417.80" y1="230.40" x2="417.80" y2="231.70" stroke="#888" stroke-width="0.6" />
<text x="416.80" y="238.70" font-size="3.9" text-anchor="middle" fill="#555">10<tspan font-size="2.6" dy="-1.8">6</tspan></text>
<text transform="translate(312.40,188.40) rotate(-90) scale(1,1.12)" font-size="12.2" text-anchor="middle" fill="#1a1a1a" stroke="#1a1a1a" stroke-width="0.18">Count (10<tspan font-size="7.4" dy="-4.6">3</tspan><tspan dy="4.6">)</tspan></text>
<text x="370.60" y="249.60" font-size="11.9" text-anchor="middle" fill="#1a1a1a" font-weight="normal" stroke="#1a1a1a" stroke-width="0.18" >CD55 FITC</text>
<rect x="453.80" y="141.20" width="1.10" height="88.30" fill="#dc6a6a"/>
<rect x="455.90" y="144.30" width="2.10" height="85.20" fill="#eeb6b6"/>
<rect x="458.00" y="143.30" width="1.00" height="86.20" fill="#e9a8a8"/>
<rect x="459.00" y="143.00" width="1.50" height="86.50" fill="#edb2b2"/>
<rect x="460.50" y="141.20" width="1.30" height="88.30" fill="#e49a9a"/>
<rect x="461.80" y="142.50" width="2.10" height="87.00" fill="#e08686"/>
<rect x="463.90" y="141.50" width="2.80" height="88.00" fill="#d86868"/>
<rect x="466.40" y="140.60" width="0.70" height="88.90" fill="#d03a3a"/>
<polygon points="466.30,229.50 466.30,143.20 467.50,141.90 469.00,144.50 470.60,148.90 473.20,161.90 475.00,174.80 476.50,187.80 477.20,195.00 477.40,229.50" fill="#cc0000"/>
<line x1="478.20" y1="194.00" x2="478.20" y2="229.50" stroke="#f0b0b0" stroke-width="0.7" />
<line x1="454.35" y1="139.94" x2="454.35" y2="147.20" stroke="#dc6a6a" stroke-width="0.45" />
<line x1="456.25" y1="145.89" x2="456.25" y2="150.30" stroke="#eeb6b6" stroke-width="0.45" />
<line x1="456.95" y1="145.56" x2="456.95" y2="150.30" stroke="#eeb6b6" stroke-width="0.45" />
<line x1="457.65" y1="143.52" x2="457.65" y2="150.30" stroke="#eeb6b6" stroke-width="0.45" />
<line x1="458.50" y1="143.48" x2="458.50" y2="149.30" stroke="#e9a8a8" stroke-width="0.45" />
<line x1="459.38" y1="143.00" x2="459.38" y2="149.00" stroke="#edb2b2" stroke-width="0.45" />
<line x1="460.12" y1="143.81" x2="460.12" y2="149.00" stroke="#edb2b2" stroke-width="0.45" />
<line x1="461.15" y1="142.55" x2="461.15" y2="147.20" stroke="#e49a9a" stroke-width="0.45" />
<line x1="462.32" y1="141.08" x2="462.32" y2="148.50" stroke="#e08686" stroke-width="0.45" />
<line x1="463.38" y1="140.81" x2="463.38" y2="148.50" stroke="#e08686" stroke-width="0.45" />
<line x1="464.25" y1="143.04" x2="464.25" y2="147.50" stroke="#d86868" stroke-width="0.45" />
<line x1="464.95" y1="141.43" x2="464.95" y2="147.50" stroke="#d86868" stroke-width="0.45" />
<line x1="465.65" y1="142.75" x2="465.65" y2="147.50" stroke="#d86868" stroke-width="0.45" />
<line x1="466.35" y1="139.71" x2="466.35" y2="147.50" stroke="#d86868" stroke-width="0.45" />
<line x1="466.75" y1="140.58" x2="466.75" y2="146.60" stroke="#d03a3a" stroke-width="0.45" />
<polyline points="476.50,187.80 478.10,200.70 479.10,213.60 480.40,224.00 482.20,227.90 484.00,229.10 510.00,229.30" fill="none" stroke="#c81010" stroke-width="1.0"/>
<line x1="449.60" y1="139.20" x2="540.60" y2="139.20" stroke="#d0d0d0" stroke-width="1.0" />
<line x1="449.60" y1="229.60" x2="540.60" y2="229.60" stroke="#c4c4c4" stroke-width="0.8" />
<line x1="540.60" y1="139.20" x2="540.60" y2="229.60" stroke="#ffb400" stroke-width="1.3" />
<line x1="449.60" y1="139.20" x2="449.60" y2="229.60" stroke="#ff2a2a" stroke-width="1.4" />
<line x1="483.40" y1="139.20" x2="483.40" y2="229.60" stroke="#ffb400" stroke-width="1.2" />
<line x1="483.40" y1="161.75" x2="540.60" y2="161.75" stroke="#ffb400" stroke-width="1.3" />
<line x1="449.60" y1="179.60" x2="483.40" y2="179.60" stroke="#ff2a2a" stroke-width="1.3" />
<text x="450.80" y="177.25" font-size="5.6" text-anchor="start" fill="#ff2a2a" font-weight="bold" stroke="#ff2a2a" stroke-width="0.18" letter-spacing="0.45">R2: 99.67%</text>
<text x="484.70" y="159.35" font-size="5.6" text-anchor="start" fill="#ffb400" font-weight="bold" stroke="#ffb400" stroke-width="0.18" letter-spacing="0.45">R3: 0.33%</text>
<line x1="444.80" y1="139.20" x2="449.60" y2="139.20" stroke="#888" stroke-width="0.6" />
<text x="444.30" y="140.50" font-size="3.5" text-anchor="end" fill="#555" font-weight="normal" >7.04</text>
<line x1="446.40" y1="164.50" x2="449.60" y2="164.50" stroke="#888" stroke-width="0.6" />
<text x="445.90" y="165.60" font-size="3.5" text-anchor="end" fill="#555" font-weight="normal" >5</text>
<line x1="446.40" y1="229.50" x2="449.60" y2="229.50" stroke="#888" stroke-width="0.6" />
<text x="445.90" y="230.60" font-size="3.5" text-anchor="end" fill="#555" font-weight="normal" >0</text>
<line x1="448.20" y1="223.00" x2="449.60" y2="223.00" stroke="#999" stroke-width="0.5" />
<line x1="448.20" y1="216.50" x2="449.60" y2="216.50" stroke="#999" stroke-width="0.5" />
<line x1="448.20" y1="210.00" x2="449.60" y2="210.00" stroke="#999" stroke-width="0.5" />
<line x1="448.20" y1="203.50" x2="449.60" y2="203.50" stroke="#999" stroke-width="0.5" />
<line x1="448.20" y1="197.00" x2="449.60" y2="197.00" stroke="#999" stroke-width="0.5" />
<line x1="448.20" y1="190.50" x2="449.60" y2="190.50" stroke="#999" stroke-width="0.5" />
<line x1="448.20" y1="184.00" x2="449.60" y2="184.00" stroke="#999" stroke-width="0.5" />
<line x1="448.20" y1="177.50" x2="449.60" y2="177.50" stroke="#999" stroke-width="0.5" />
<line x1="448.20" y1="171.00" x2="449.60" y2="171.00" stroke="#999" stroke-width="0.5" />
<line x1="448.20" y1="158.00" x2="449.60" y2="158.00" stroke="#999" stroke-width="0.5" />
<line x1="448.20" y1="151.50" x2="449.60" y2="151.50" stroke="#999" stroke-width="0.5" />
<line x1="448.20" y1="145.00" x2="449.60" y2="145.00" stroke="#999" stroke-width="0.5" />
<line x1="448.20" y1="138.50" x2="449.60" y2="138.50" stroke="#999" stroke-width="0.5" />
<line x1="449.60" y1="229.60" x2="449.60" y2="230.90" stroke="#888" stroke-width="0.6" />
<text x="448.60" y="237.90" font-size="3.9" text-anchor="middle" fill="#555">10<tspan font-size="2.6" dy="-1.8">0</tspan></text>
<line x1="464.77" y1="229.60" x2="464.77" y2="230.90" stroke="#888" stroke-width="0.6" />
<text x="463.77" y="237.90" font-size="3.9" text-anchor="middle" fill="#555">10<tspan font-size="2.6" dy="-1.8">1</tspan></text>
<line x1="479.93" y1="229.60" x2="479.93" y2="230.90" stroke="#888" stroke-width="0.6" />
<text x="478.93" y="237.90" font-size="3.9" text-anchor="middle" fill="#555">10<tspan font-size="2.6" dy="-1.8">2</tspan></text>
<line x1="495.10" y1="229.60" x2="495.10" y2="230.90" stroke="#888" stroke-width="0.6" />
<text x="494.10" y="237.90" font-size="3.9" text-anchor="middle" fill="#555">10<tspan font-size="2.6" dy="-1.8">3</tspan></text>
<line x1="510.27" y1="229.60" x2="510.27" y2="230.90" stroke="#888" stroke-width="0.6" />
<text x="509.27" y="237.90" font-size="3.9" text-anchor="middle" fill="#555">10<tspan font-size="2.6" dy="-1.8">4</tspan></text>
<line x1="525.43" y1="229.60" x2="525.43" y2="230.90" stroke="#888" stroke-width="0.6" />
<text x="524.43" y="237.90" font-size="3.9" text-anchor="middle" fill="#555">10<tspan font-size="2.6" dy="-1.8">5</tspan></text>
<line x1="540.60" y1="229.60" x2="540.60" y2="230.90" stroke="#888" stroke-width="0.6" />
<text x="539.60" y="237.90" font-size="3.9" text-anchor="middle" fill="#555">10<tspan font-size="2.6" dy="-1.8">6</tspan></text>
<text transform="translate(440.00,188.30) rotate(-90) scale(1,1.12)" font-size="12.0" text-anchor="middle" fill="#1a1a1a" stroke="#1a1a1a" stroke-width="0.18">Count (10<tspan font-size="7.4" dy="-4.6">3</tspan><tspan dy="4.6">)</tspan></text>
<text x="495.50" y="249.60" font-size="11.9" text-anchor="middle" fill="#1a1a1a" font-weight="normal" stroke="#1a1a1a" stroke-width="0.18" >CD55 FITC</text>
<rect x="328.80" y="271.20" width="1.30" height="79.50" fill="#c4c4c4"/>
<rect x="331.10" y="269.60" width="1.60" height="81.10" fill="#989898"/>
<rect x="332.70" y="268.60" width="1.90" height="82.10" fill="#bcbcbc"/>
<rect x="334.60" y="266.50" width="1.40" height="84.20" fill="#c6c6c6"/>
<rect x="336.00" y="264.90" width="0.80" height="85.80" fill="#acacac"/>
<rect x="336.80" y="266.50" width="3.10" height="84.20" fill="#b6b6b6"/>
<rect x="339.90" y="262.80" width="1.10" height="87.90" fill="#8e8e8e"/>
<rect x="341.00" y="265.50" width="2.00" height="85.20" fill="#8e8e8e"/>
<polygon points="342.20,350.70 342.20,264.00 343.50,263.30 344.30,268.00 345.50,274.00 347.40,282.90 350.00,295.80 351.50,308.80 352.60,321.70 353.20,330.00 353.40,350.70" fill="#5a5a5a"/>
<line x1="344.00" y1="265.50" x2="344.00" y2="350.70" stroke="#666" stroke-width="0.7" />
<line x1="345.80" y1="266.50" x2="345.80" y2="350.70" stroke="#6a6a6a" stroke-width="0.7" />
<line x1="347.50" y1="268.50" x2="347.50" y2="350.70" stroke="#777" stroke-width="0.7" />
<line x1="329.45" y1="269.94" x2="329.45" y2="277.20" stroke="#c4c4c4" stroke-width="0.45" />
<line x1="331.50" y1="271.19" x2="331.50" y2="275.60" stroke="#989898" stroke-width="0.45" />
<line x1="332.30" y1="270.86" x2="332.30" y2="275.60" stroke="#989898" stroke-width="0.45" />
<line x1="333.18" y1="267.82" x2="333.18" y2="274.60" stroke="#bcbcbc" stroke-width="0.45" />
<line x1="334.12" y1="268.78" x2="334.12" y2="274.60" stroke="#bcbcbc" stroke-width="0.45" />
<line x1="335.30" y1="266.50" x2="335.30" y2="272.50" stroke="#c6c6c6" stroke-width="0.45" />
<line x1="336.40" y1="265.71" x2="336.40" y2="270.90" stroke="#acacac" stroke-width="0.45" />
<line x1="337.19" y1="267.85" x2="337.19" y2="272.50" stroke="#b6b6b6" stroke-width="0.45" />
<line x1="337.96" y1="265.08" x2="337.96" y2="272.50" stroke="#b6b6b6" stroke-width="0.45" />
<line x1="338.74" y1="264.81" x2="338.74" y2="272.50" stroke="#b6b6b6" stroke-width="0.45" />
<line x1="339.51" y1="268.04" x2="339.51" y2="272.50" stroke="#b6b6b6" stroke-width="0.45" />
<line x1="340.45" y1="262.73" x2="340.45" y2="268.80" stroke="#8e8e8e" stroke-width="0.45" />
<line x1="341.50" y1="266.75" x2="341.50" y2="271.50" stroke="#8e8e8e" stroke-width="0.45" />
<line x1="342.50" y1="263.71" x2="342.50" y2="271.50" stroke="#8e8e8e" stroke-width="0.45" />
<polyline points="352.60,321.70 353.30,328.00 354.10,334.60 355.40,345.00 356.50,348.50 358.50,349.90 360.00,350.30 416.00,350.40" fill="none" stroke="#555" stroke-width="1.0"/>
<line x1="325.00" y1="260.50" x2="416.80" y2="260.50" stroke="#c4c4c4" stroke-width="1.0" />
<line x1="325.00" y1="350.80" x2="416.80" y2="350.80" stroke="#b0b0b0" stroke-width="0.9" />
<line x1="416.80" y1="260.50" x2="416.80" y2="350.80" stroke="#858585" stroke-width="1.3" />
<line x1="325.00" y1="260.50" x2="325.00" y2="350.80" stroke="#777" stroke-width="1.3" />
<line x1="355.40" y1="260.50" x2="355.40" y2="350.80" stroke="#8a8a8a" stroke-width="1.2" />
<line x1="355.40" y1="283.00" x2="416.80" y2="283.00" stroke="#8a8a8a" stroke-width="1.3" />
<line x1="325.00" y1="300.80" x2="355.40" y2="300.80" stroke="#8a8a8a" stroke-width="1.3" />
<text x="326.20" y="298.85" font-size="5.6" text-anchor="start" fill="#8a8a8a" font-weight="bold" stroke="#8a8a8a" stroke-width="0.18" letter-spacing="0.45">R2: 98.00%</text>
<text x="369.30" y="280.65" font-size="5.6" text-anchor="start" fill="#8a8a8a" font-weight="bold" stroke="#8a8a8a" stroke-width="0.18" letter-spacing="0.45">R3: 2.00%</text>
<line x1="320.20" y1="260.50" x2="325.00" y2="260.50" stroke="#888" stroke-width="0.6" />
<text x="319.70" y="261.80" font-size="3.5" text-anchor="end" fill="#555" font-weight="normal" >7.04</text>
<line x1="321.80" y1="286.00" x2="325.00" y2="286.00" stroke="#888" stroke-width="0.6" />
<text x="321.30" y="287.10" font-size="3.5" text-anchor="end" fill="#555" font-weight="normal" >5</text>
<line x1="321.80" y1="350.70" x2="325.00" y2="350.70" stroke="#888" stroke-width="0.6" />
<text x="321.30" y="351.80" font-size="3.5" text-anchor="end" fill="#555" font-weight="normal" >0</text>
<line x1="323.60" y1="344.23" x2="325.00" y2="344.23" stroke="#999" stroke-width="0.5" />
<line x1="323.60" y1="337.76" x2="325.00" y2="337.76" stroke="#999" stroke-width="0.5" />
<line x1="323.60" y1="331.29" x2="325.00" y2="331.29" stroke="#999" stroke-width="0.5" />
<line x1="323.60" y1="324.82" x2="325.00" y2="324.82" stroke="#999" stroke-width="0.5" />
<line x1="323.60" y1="318.35" x2="325.00" y2="318.35" stroke="#999" stroke-width="0.5" />
<line x1="323.60" y1="311.88" x2="325.00" y2="311.88" stroke="#999" stroke-width="0.5" />
<line x1="323.60" y1="305.41" x2="325.00" y2="305.41" stroke="#999" stroke-width="0.5" />
<line x1="323.60" y1="298.94" x2="325.00" y2="298.94" stroke="#999" stroke-width="0.5" />
<line x1="323.60" y1="292.47" x2="325.00" y2="292.47" stroke="#999" stroke-width="0.5" />
<line x1="323.60" y1="279.53" x2="325.00" y2="279.53" stroke="#999" stroke-width="0.5" />
<line x1="323.60" y1="273.06" x2="325.00" y2="273.06" stroke="#999" stroke-width="0.5" />
<line x1="323.60" y1="266.59" x2="325.00" y2="266.59" stroke="#999" stroke-width="0.5" />
<line x1="323.60" y1="260.12" x2="325.00" y2="260.12" stroke="#999" stroke-width="0.5" />
<line x1="325.00" y1="350.80" x2="325.00" y2="352.10" stroke="#888" stroke-width="0.6" />
<text x="324.00" y="359.10" font-size="3.9" text-anchor="middle" fill="#555">10<tspan font-size="2.6" dy="-1.8">0</tspan></text>
<line x1="340.30" y1="350.80" x2="340.30" y2="352.10" stroke="#888" stroke-width="0.6" />
<text x="339.30" y="359.10" font-size="3.9" text-anchor="middle" fill="#555">10<tspan font-size="2.6" dy="-1.8">1</tspan></text>
<line x1="355.60" y1="350.80" x2="355.60" y2="352.10" stroke="#888" stroke-width="0.6" />
<text x="354.60" y="359.10" font-size="3.9" text-anchor="middle" fill="#555">10<tspan font-size="2.6" dy="-1.8">2</tspan></text>
<line x1="370.90" y1="350.80" x2="370.90" y2="352.10" stroke="#888" stroke-width="0.6" />
<text x="369.90" y="359.10" font-size="3.9" text-anchor="middle" fill="#555">10<tspan font-size="2.6" dy="-1.8">3</tspan></text>
<line x1="386.20" y1="350.80" x2="386.20" y2="352.10" stroke="#888" stroke-width="0.6" />
<text x="385.20" y="359.10" font-size="3.9" text-anchor="middle" fill="#555">10<tspan font-size="2.6" dy="-1.8">4</tspan></text>
<line x1="401.50" y1="350.80" x2="401.50" y2="352.10" stroke="#888" stroke-width="0.6" />
<text x="400.50" y="359.10" font-size="3.9" text-anchor="middle" fill="#555">10<tspan font-size="2.6" dy="-1.8">5</tspan></text>
<line x1="416.80" y1="350.80" x2="416.80" y2="352.10" stroke="#888" stroke-width="0.6" />
<text x="415.80" y="359.10" font-size="3.9" text-anchor="middle" fill="#555">10<tspan font-size="2.6" dy="-1.8">6</tspan></text>
<text transform="translate(312.80,310.00) rotate(-90) scale(1,1.12)" font-size="12.0" text-anchor="middle" fill="#1a1a1a" stroke="#1a1a1a" stroke-width="0.18">Count (10<tspan font-size="7.4" dy="-4.6">3</tspan><tspan dy="4.6">)</tspan></text>
<text x="371.30" y="370.60" font-size="11.9" text-anchor="middle" fill="#1a1a1a" font-weight="normal" stroke="#1a1a1a" stroke-width="0.18" >CD59 FITC</text>
<rect x="452.90" y="265.40" width="0.90" height="85.80" fill="#dc6060"/>
<rect x="453.80" y="266.00" width="2.60" height="85.20" fill="#f6dcdc"/>
<rect x="456.40" y="264.30" width="1.10" height="86.90" fill="#e07070"/>
<rect x="457.50" y="264.50" width="2.00" height="86.70" fill="#e4a4a4"/>
<rect x="459.50" y="263.80" width="2.00" height="87.40" fill="#e09494"/>
<rect x="461.50" y="262.80" width="1.10" height="88.40" fill="#dc8a8a"/>
<rect x="462.60" y="263.50" width="1.30" height="87.70" fill="#dc8080"/>
<rect x="463.90" y="263.00" width="1.70" height="88.20" fill="#d02424"/>
<polygon points="465.50,351.20 465.50,263.00 467.50,262.20 469.50,263.20 471.00,268.00 472.50,275.00 473.80,282.00 475.00,290.00 476.30,298.00 477.00,306.00 477.50,315.00 477.80,351.20" fill="#cc0000"/>
<line x1="468.20" y1="262.00" x2="468.20" y2="351.20" stroke="#d01010" stroke-width="0.7" />
<line x1="453.35" y1="264.14" x2="453.35" y2="271.40" stroke="#dc6060" stroke-width="0.45" />
<line x1="454.23" y1="267.59" x2="454.23" y2="272.00" stroke="#f6dcdc" stroke-width="0.45" />
<line x1="455.10" y1="267.26" x2="455.10" y2="272.00" stroke="#f6dcdc" stroke-width="0.45" />
<line x1="455.97" y1="265.22" x2="455.97" y2="272.00" stroke="#f6dcdc" stroke-width="0.45" />
<line x1="456.95" y1="264.48" x2="456.95" y2="270.30" stroke="#e07070" stroke-width="0.45" />
<line x1="458.00" y1="264.50" x2="458.00" y2="270.50" stroke="#e4a4a4" stroke-width="0.45" />
<line x1="459.00" y1="265.31" x2="459.00" y2="270.50" stroke="#e4a4a4" stroke-width="0.45" />
<line x1="460.00" y1="265.15" x2="460.00" y2="269.80" stroke="#e09494" stroke-width="0.45" />
<line x1="461.00" y1="262.38" x2="461.00" y2="269.80" stroke="#e09494" stroke-width="0.45" />
<line x1="462.05" y1="261.11" x2="462.05" y2="268.80" stroke="#dc8a8a" stroke-width="0.45" />
<line x1="463.25" y1="265.04" x2="463.25" y2="269.50" stroke="#dc8080" stroke-width="0.45" />
<line x1="464.32" y1="262.93" x2="464.32" y2="269.00" stroke="#d02424" stroke-width="0.45" />
<line x1="465.18" y1="264.25" x2="465.18" y2="269.00" stroke="#d02424" stroke-width="0.45" />
<polyline points="477.50,315.00 478.80,333.00 480.50,343.00 483.00,348.50 486.00,350.50 490.40,350.90 512.00,351.00" fill="none" stroke="#c81010" stroke-width="1.0"/>
<line x1="449.10" y1="259.30" x2="541.60" y2="259.30" stroke="#d0d0d0" stroke-width="1.0" />
<line x1="449.10" y1="351.30" x2="541.60" y2="351.30" stroke="#c4c4c4" stroke-width="0.8" />
<line x1="541.60" y1="259.30" x2="541.60" y2="351.30" stroke="#ffb400" stroke-width="1.3" />
<line x1="449.10" y1="259.30" x2="449.10" y2="351.30" stroke="#ff2a2a" stroke-width="1.4" />
<line x1="482.90" y1="259.30" x2="482.90" y2="351.30" stroke="#ffb400" stroke-width="1.2" />
<line x1="482.90" y1="282.20" x2="541.60" y2="282.20" stroke="#ffb400" stroke-width="1.3" />
<line x1="449.10" y1="300.90" x2="482.90" y2="300.90" stroke="#ff2a2a" stroke-width="1.3" />
<text x="450.30" y="297.65" font-size="5.6" text-anchor="start" fill="#ff2a2a" font-weight="bold" stroke="#ff2a2a" stroke-width="0.18" letter-spacing="0.45">R2: 98.29%</text>
<text x="484.20" y="279.35" font-size="5.6" text-anchor="start" fill="#ffb400" font-weight="bold" stroke="#ffb400" stroke-width="0.18" letter-spacing="0.45">R3: 1.71%</text>
<line x1="445.90" y1="266.20" x2="449.10" y2="266.20" stroke="#888" stroke-width="0.6" />
<text x="445.40" y="267.30" font-size="3.5" text-anchor="end" fill="#555" font-weight="normal" >5</text>
<line x1="445.90" y1="308.70" x2="449.10" y2="308.70" stroke="#888" stroke-width="0.6" />
<text x="445.40" y="309.80" font-size="3.5" text-anchor="end" fill="#555" font-weight="normal" >2.5</text>
<line x1="445.90" y1="351.20" x2="449.10" y2="351.20" stroke="#888" stroke-width="0.6" />
<text x="445.40" y="352.30" font-size="3.5" text-anchor="end" fill="#555" font-weight="normal" >0</text>
<line x1="447.70" y1="342.70" x2="449.10" y2="342.70" stroke="#999" stroke-width="0.5" />
<line x1="447.70" y1="334.20" x2="449.10" y2="334.20" stroke="#999" stroke-width="0.5" />
<line x1="447.70" y1="325.70" x2="449.10" y2="325.70" stroke="#999" stroke-width="0.5" />
<line x1="447.70" y1="317.20" x2="449.10" y2="317.20" stroke="#999" stroke-width="0.5" />
<line x1="447.70" y1="300.20" x2="449.10" y2="300.20" stroke="#999" stroke-width="0.5" />
<line x1="447.70" y1="291.70" x2="449.10" y2="291.70" stroke="#999" stroke-width="0.5" />
<line x1="447.70" y1="283.20" x2="449.10" y2="283.20" stroke="#999" stroke-width="0.5" />
<line x1="447.70" y1="274.70" x2="449.10" y2="274.70" stroke="#999" stroke-width="0.5" />
<line x1="449.10" y1="351.30" x2="449.10" y2="352.60" stroke="#888" stroke-width="0.6" />
<text x="448.10" y="359.60" font-size="3.9" text-anchor="middle" fill="#555">10<tspan font-size="2.6" dy="-1.8">0</tspan></text>
<line x1="464.52" y1="351.30" x2="464.52" y2="352.60" stroke="#888" stroke-width="0.6" />
<text x="463.52" y="359.60" font-size="3.9" text-anchor="middle" fill="#555">10<tspan font-size="2.6" dy="-1.8">1</tspan></text>
<line x1="479.93" y1="351.30" x2="479.93" y2="352.60" stroke="#888" stroke-width="0.6" />
<text x="478.93" y="359.60" font-size="3.9" text-anchor="middle" fill="#555">10<tspan font-size="2.6" dy="-1.8">2</tspan></text>
<line x1="495.35" y1="351.30" x2="495.35" y2="352.60" stroke="#888" stroke-width="0.6" />
<text x="494.35" y="359.60" font-size="3.9" text-anchor="middle" fill="#555">10<tspan font-size="2.6" dy="-1.8">3</tspan></text>
<line x1="510.77" y1="351.30" x2="510.77" y2="352.60" stroke="#888" stroke-width="0.6" />
<text x="509.77" y="359.60" font-size="3.9" text-anchor="middle" fill="#555">10<tspan font-size="2.6" dy="-1.8">4</tspan></text>
<line x1="526.18" y1="351.30" x2="526.18" y2="352.60" stroke="#888" stroke-width="0.6" />
<text x="525.18" y="359.60" font-size="3.9" text-anchor="middle" fill="#555">10<tspan font-size="2.6" dy="-1.8">5</tspan></text>
<line x1="541.60" y1="351.30" x2="541.60" y2="352.60" stroke="#888" stroke-width="0.6" />
<text x="540.60" y="359.60" font-size="3.9" text-anchor="middle" fill="#555">10<tspan font-size="2.6" dy="-1.8">6</tspan></text>
<text transform="translate(440.20,308.30) rotate(-90) scale(1,1.12)" font-size="11.8" text-anchor="middle" fill="#1a1a1a" stroke="#1a1a1a" stroke-width="0.18">Count (10<tspan font-size="7.4" dy="-4.6">3</tspan><tspan dy="4.6">)</tspan></text>
<text x="496.20" y="370.20" font-size="11.9" text-anchor="middle" fill="#1a1a1a" font-weight="normal" stroke="#1a1a1a" stroke-width="0.18" >CD59 FITC</text>
<text x="283.40" y="138.90" font-size="16.8" text-anchor="start" fill="#1a1a1a" font-weight="normal" stroke="#1a1a1a" stroke-width="0.35" >F</text>
<text x="363.50" y="133.80" font-size="10.5" text-anchor="middle" fill="#1a1a1a" font-weight="normal" stroke="#1a1a1a" stroke-width="0.18" >Before</text>
<text x="489.50" y="134.50" font-size="10.7" text-anchor="middle" fill="#ff1a1a" font-weight="normal" stroke="#ff1a1a" stroke-width="0.18" >After</text>
</svg>
</body></html>
